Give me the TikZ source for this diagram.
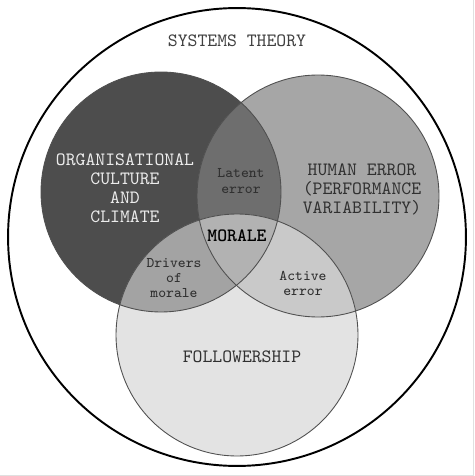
\documentclass[tikz,border=0pt]{standalone}
\definecolor{cOrg}{HTML}{4D4D4D}
\definecolor{cHum}{HTML}{A6A6A6}
\definecolor{cFol}{HTML}{E3E3E3}
\definecolor{cOH}{HTML}{6E6E6E}
\definecolor{cOF}{HTML}{A3A3A3}
\definecolor{cHF}{HTML}{C9C9C9}
\definecolor{cAll}{HTML}{B2B2B2}
\definecolor{cTxt}{HTML}{303030}
\definecolor{cLight}{HTML}{ECECEC}
\definecolor{cEdge}{HTML}{505050}
\tikzset{
  bigtext/.style={font=\ttfamily\fontsize{10.7}{10.8}\selectfont, align=center, inner sep=0pt, text=cTxt},
  smalltext/.style={font=\ttfamily\fontsize{8.4}{8.6}\selectfont, align=center, inner sep=0pt, text=cTxt},
  venn/.style={draw=cEdge, line width=0.5pt}
}
\begin{document}
\begin{tikzpicture}[x=0.02cm,y=-0.02cm]
\useasboundingbox (0,0) rectangle (474,476);
\fill[white] (0,0) rectangle (474,476);
\draw[black!12, line width=0.8pt] (473.6,0) -- (473.6,475.6) -- (0,475.6);
% centres
\coordinate (O) at (237,237);
\coordinate (A) at (161,192);
\coordinate (B) at (318,196);
\coordinate (C) at (237,335);
% outer circle
\draw[black, line width=1.1pt] (O) circle [radius=4.58cm];
% base fills
\fill[cOrg] (A) circle [radius=2.40cm];
\fill[cHum] (B) circle [radius=2.42cm];
\fill[cFol] (C) circle [radius=2.42cm];
\begin{scope}
  \clip (A) circle [radius=2.40cm];
  \fill[cOH] (B) circle [radius=2.42cm];
\end{scope}
\begin{scope}
  \clip (A) circle [radius=2.40cm];
  \fill[cOF] (C) circle [radius=2.42cm];
\end{scope}
\begin{scope}
  \clip (B) circle [radius=2.42cm];
  \fill[cHF] (C) circle [radius=2.42cm];
\end{scope}
\begin{scope}
  \clip (A) circle [radius=2.40cm];
  \clip (B) circle [radius=2.42cm];
  \fill[cAll] (C) circle [radius=2.42cm];
\end{scope}
\draw[venn] (A) circle [radius=2.40cm];
\draw[venn] (B) circle [radius=2.42cm];
\draw[venn] (C) circle [radius=2.42cm];
% texts
\node[bigtext, text=black!75] (sys) at (237,41) {SYSTEMS THEORY};
\node[bigtext, text=cLight] (org) at (125,188) {ORGANISATIONAL\\CULTURE\\AND\\CLIMATE};
\node[bigtext] (hum) at (362,189) {HUMAN ERROR\\(PERFORMANCE\\VARIABILITY)};
\node[smalltext] (lat) at (241,181) {Latent\\error};
\node[bigtext, font=\ttfamily\bfseries\fontsize{10.7}{10.8}\selectfont, text=black] (mor) at (237,236) {MORALE};
\node[smalltext] (drv) at (174,278) {Drivers\\of\\morale};
\node[smalltext] (act) at (303,283) {Active\\error};
\node[bigtext] (fol) at (242,357) {FOLLOWERSHIP};
\end{tikzpicture}
\end{document}
